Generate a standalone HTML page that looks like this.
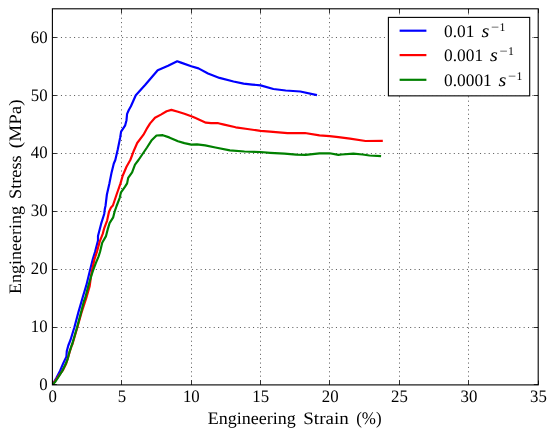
<!DOCTYPE html>
<html><head><meta charset="utf-8"><title>Engineering Stress vs Strain</title>
<style>
html,body{margin:0;padding:0;background:#fff;}
svg{display:block;}
text{text-rendering:geometricPrecision;font-family:"Liberation Serif",serif;font-size:17.5px;fill:#000;}
</style></head><body>
<svg width="550" height="434" viewBox="0 0 550 434">
<rect x="0" y="0" width="550" height="434" fill="#fff"/>
<g stroke="#000" stroke-opacity="0.62" stroke-width="1" stroke-dasharray="1.09 3.275" fill="none">
<line stroke-dashoffset="0.545" x1="121.5" y1="384.9" x2="121.5" y2="8.8"/>
<line stroke-dashoffset="0.545" x1="191.5" y1="384.9" x2="191.5" y2="8.8"/>
<line stroke-dashoffset="0.545" x1="260.5" y1="384.9" x2="260.5" y2="8.8"/>
<line stroke-dashoffset="0.545" x1="329.5" y1="384.9" x2="329.5" y2="8.8"/>
<line stroke-dashoffset="0.545" x1="399.5" y1="384.9" x2="399.5" y2="8.8"/>
<line stroke-dashoffset="0.545" x1="468.5" y1="384.9" x2="468.5" y2="8.8"/>
<line stroke-dashoffset="0.2" x1="52.4" y1="327.5" x2="538.1" y2="327.5"/>
<line stroke-dashoffset="0.2" x1="52.4" y1="269.5" x2="538.1" y2="269.5"/>
<line stroke-dashoffset="0.2" x1="52.4" y1="211.5" x2="538.1" y2="211.5"/>
<line stroke-dashoffset="0.2" x1="52.4" y1="153.5" x2="538.1" y2="153.5"/>
<line stroke-dashoffset="0.2" x1="52.4" y1="95.5" x2="538.1" y2="95.5"/>
<line stroke-dashoffset="0.2" x1="52.4" y1="37.5" x2="538.1" y2="37.5"/>
</g>
<clipPath id="c"><rect x="52.4" y="8.8" width="485.8" height="376.1"/></clipPath>
<g clip-path="url(#c)">
<polyline fill="none" stroke="#0000ff" stroke-width="2.18" stroke-linejoin="round" stroke-linecap="butt" points="52.6,384.6 56.6,377.6 60.0,371.0 63.3,363.2 66.4,356.6 66.8,351.1 68.3,345.5 70.5,340.0 74.4,327.3 78.3,312.6 82.8,297.0 86.3,285.4 90.2,269.4 92.9,258.8 95.0,252.0 98.0,240.5 98.0,236.1 101.1,223.9 104.2,214.0 104.9,208.4 105.5,206.0 106.9,194.5 109.4,183.4 111.6,172.4 113.8,163.5 115.3,160.0 117.8,149.3 120.1,137.9 121.1,131.6 125.2,125.3 126.5,120.2 127.1,113.9 128.8,110.0 130.9,106.3 135.8,95.3 145.3,84.8 157.7,70.2 168.1,65.8 177.2,61.3 181.0,62.6 191.2,66.2 198.5,68.4 208.0,73.5 219.5,77.9 233.5,81.5 243.6,83.6 252.3,84.6 260.6,85.4 273.4,89.0 285.7,90.5 300.3,91.5 317.0,95.1"/>
<polyline fill="none" stroke="#ff0000" stroke-width="2.18" stroke-linejoin="round" stroke-linecap="butt" points="52.6,384.6 55.2,381.0 58.6,376.0 62.8,370.4 66.1,363.8 67.8,358.5 69.6,352.2 71.8,345.5 72.5,344.0 77.4,327.3 81.5,312.6 86.3,298.0 89.6,286.5 91.3,274.3 92.2,269.4 94.6,258.8 96.9,252.0 99.7,241.6 102.7,233.9 104.2,228.3 107.1,220.6 109.0,211.7 111.0,207.5 112.9,205.5 116.6,194.5 120.5,183.4 122.7,175.7 126.5,166.8 130.3,160.0 133.4,151.8 137.2,143.0 143.5,134.7 147.3,127.8 150.1,123.4 155.0,117.7 160.9,114.6 166.6,111.2 171.4,109.9 178.0,111.7 184.4,113.7 191.3,116.2 195.0,117.8 205.9,122.7 211.0,123.2 218.3,123.2 224.1,124.6 235.7,127.3 247.4,129.0 260.5,130.9 270.0,131.7 287.5,133.2 304.9,133.0 319.5,135.4 329.6,136.2 338.4,137.1 350.0,138.7 365.5,141.0 382.8,140.8"/>
<polyline fill="none" stroke="#008000" stroke-width="2.18" stroke-linejoin="round" stroke-linecap="butt" points="52.6,384.6 55.5,381.5 58.8,376.5 62.2,371.0 65.5,364.3 67.7,358.8 69.4,352.2 71.6,345.5 72.2,344.0 77.1,327.3 81.0,312.6 83.8,301.5 85.2,298.0 88.5,285.4 90.7,277.7 92.9,271.0 95.7,263.3 98.5,256.6 100.0,252.0 102.2,242.7 106.0,236.1 107.7,229.4 109.7,222.8 113.2,217.3 114.6,211.7 116.6,206.0 119.7,197.8 121.0,192.3 124.9,186.8 127.1,183.4 128.2,177.9 132.1,172.4 135.0,164.6 138.5,160.0 141.9,155.0 147.0,147.5 151.4,140.6 156.5,135.5 162.8,135.2 169.2,137.4 178.0,141.2 184.4,143.1 191.3,144.6 197.0,144.3 205.2,145.4 215.4,147.5 229.9,150.4 244.5,151.5 260.5,152.0 270.0,152.8 284.5,153.7 296.2,154.6 305.6,154.9 319.5,153.3 329.6,153.3 338.4,154.9 341.5,154.5 353.4,153.7 362.6,154.5 369.5,155.5 381.1,156.2"/>
</g>
<g stroke="#000" stroke-opacity="0.8" stroke-width="1">
<line x1="52.5" y1="384.9" x2="52.5" y2="380.5"/>
<line x1="52.5" y1="8.8" x2="52.5" y2="13.2"/>
<line x1="121.5" y1="384.9" x2="121.5" y2="380.5"/>
<line x1="121.5" y1="8.8" x2="121.5" y2="13.2"/>
<line x1="191.5" y1="384.9" x2="191.5" y2="380.5"/>
<line x1="191.5" y1="8.8" x2="191.5" y2="13.2"/>
<line x1="260.5" y1="384.9" x2="260.5" y2="380.5"/>
<line x1="260.5" y1="8.8" x2="260.5" y2="13.2"/>
<line x1="329.5" y1="384.9" x2="329.5" y2="380.5"/>
<line x1="329.5" y1="8.8" x2="329.5" y2="13.2"/>
<line x1="399.5" y1="384.9" x2="399.5" y2="380.5"/>
<line x1="399.5" y1="8.8" x2="399.5" y2="13.2"/>
<line x1="468.5" y1="384.9" x2="468.5" y2="380.5"/>
<line x1="468.5" y1="8.8" x2="468.5" y2="13.2"/>
<line x1="538.5" y1="384.9" x2="538.5" y2="380.5"/>
<line x1="538.5" y1="8.8" x2="538.5" y2="13.2"/>
<line x1="52.4" y1="384.5" x2="56.8" y2="384.5"/>
<line x1="538.1" y1="384.5" x2="533.8" y2="384.5"/>
<line x1="52.4" y1="327.5" x2="56.8" y2="327.5"/>
<line x1="538.1" y1="327.5" x2="533.8" y2="327.5"/>
<line x1="52.4" y1="269.5" x2="56.8" y2="269.5"/>
<line x1="538.1" y1="269.5" x2="533.8" y2="269.5"/>
<line x1="52.4" y1="211.5" x2="56.8" y2="211.5"/>
<line x1="538.1" y1="211.5" x2="533.8" y2="211.5"/>
<line x1="52.4" y1="153.5" x2="56.8" y2="153.5"/>
<line x1="538.1" y1="153.5" x2="533.8" y2="153.5"/>
<line x1="52.4" y1="95.5" x2="56.8" y2="95.5"/>
<line x1="538.1" y1="95.5" x2="533.8" y2="95.5"/>
<line x1="52.4" y1="37.5" x2="56.8" y2="37.5"/>
<line x1="538.1" y1="37.5" x2="533.8" y2="37.5"/>
</g>
<rect x="52.4" y="8.8" width="485.8" height="376.1" fill="none" stroke="#000" stroke-width="1.1"/>
<text transform="translate(52.6,402.3) scale(0.96,1)" text-anchor="middle">0</text>
<text transform="translate(122.0,402.3) scale(0.96,1)" text-anchor="middle">5</text>
<text transform="translate(191.3,402.3) scale(0.96,1)" text-anchor="middle">10</text>
<text transform="translate(260.7,402.3) scale(0.96,1)" text-anchor="middle">15</text>
<text transform="translate(330.2,402.3) scale(0.96,1)" text-anchor="middle">20</text>
<text transform="translate(399.5,402.3) scale(0.96,1)" text-anchor="middle">25</text>
<text transform="translate(468.9,402.3) scale(0.96,1)" text-anchor="middle">30</text>
<text transform="translate(538.4,402.3) scale(0.96,1)" text-anchor="middle">35</text>
<text transform="translate(47.6,389.9) scale(0.96,1)" text-anchor="end">0</text>
<text transform="translate(47.6,332.0) scale(0.96,1)" text-anchor="end">10</text>
<text transform="translate(47.6,274.2) scale(0.96,1)" text-anchor="end">20</text>
<text transform="translate(47.6,216.3) scale(0.96,1)" text-anchor="end">30</text>
<text transform="translate(47.6,158.4) scale(0.96,1)" text-anchor="end">40</text>
<text transform="translate(47.6,100.6) scale(0.96,1)" text-anchor="end">50</text>
<text transform="translate(47.6,42.7) scale(0.96,1)" text-anchor="end">60</text>
<text x="207.7" y="423.7" textLength="88.0" lengthAdjust="spacingAndGlyphs">Engineering</text>
<text x="303.3" y="423.7" textLength="45.4" lengthAdjust="spacingAndGlyphs">Strain</text>
<text x="356.2" y="423.7" textLength="25.4" lengthAdjust="spacingAndGlyphs">(%)</text>
<text transform="translate(20.6,294.1) rotate(-90)" textLength="88.0" lengthAdjust="spacingAndGlyphs">Engineering</text>
<text transform="translate(20.6,199.0) rotate(-90)" textLength="43.6" lengthAdjust="spacingAndGlyphs">Stress</text>
<text transform="translate(20.6,148.2) rotate(-90)" textLength="48.8" lengthAdjust="spacingAndGlyphs">(MPa)</text>
<rect x="388.4" y="17.4" width="141.3" height="78.45" fill="#fff" stroke="#000" stroke-width="1.1"/>
<line x1="399.6" y1="30.7" x2="426.4" y2="30.7" stroke="#0000ff" stroke-width="2.18"/>
<text transform="translate(444.1,37.1) scale(0.99,1)">0.01</text>
<text transform="translate(481.5,37.1) scale(1.15,1.05)" font-style="italic">s</text>
<text transform="translate(490.9,30.8) scale(1.22,1)" style="font-size:11.8px">−</text>
<text x="499.5" y="30.8" style="font-size:11.8px">1</text>
<line x1="399.6" y1="55.1" x2="426.4" y2="55.1" stroke="#ff0000" stroke-width="2.18"/>
<text transform="translate(444.1,61.4) scale(0.99,1)">0.001</text>
<text transform="translate(490.0,61.4) scale(1.15,1.05)" font-style="italic">s</text>
<text transform="translate(499.4,55.1) scale(1.22,1)" style="font-size:11.8px">−</text>
<text x="508.0" y="55.1" style="font-size:11.8px">1</text>
<line x1="399.6" y1="79.8" x2="426.4" y2="79.8" stroke="#008000" stroke-width="2.18"/>
<text transform="translate(444.1,85.9) scale(0.99,1)">0.0001</text>
<text transform="translate(498.5,85.9) scale(1.15,1.05)" font-style="italic">s</text>
<text transform="translate(507.9,79.6) scale(1.22,1)" style="font-size:11.8px">−</text>
<text x="516.5" y="79.6" style="font-size:11.8px">1</text>
</svg></body></html>
